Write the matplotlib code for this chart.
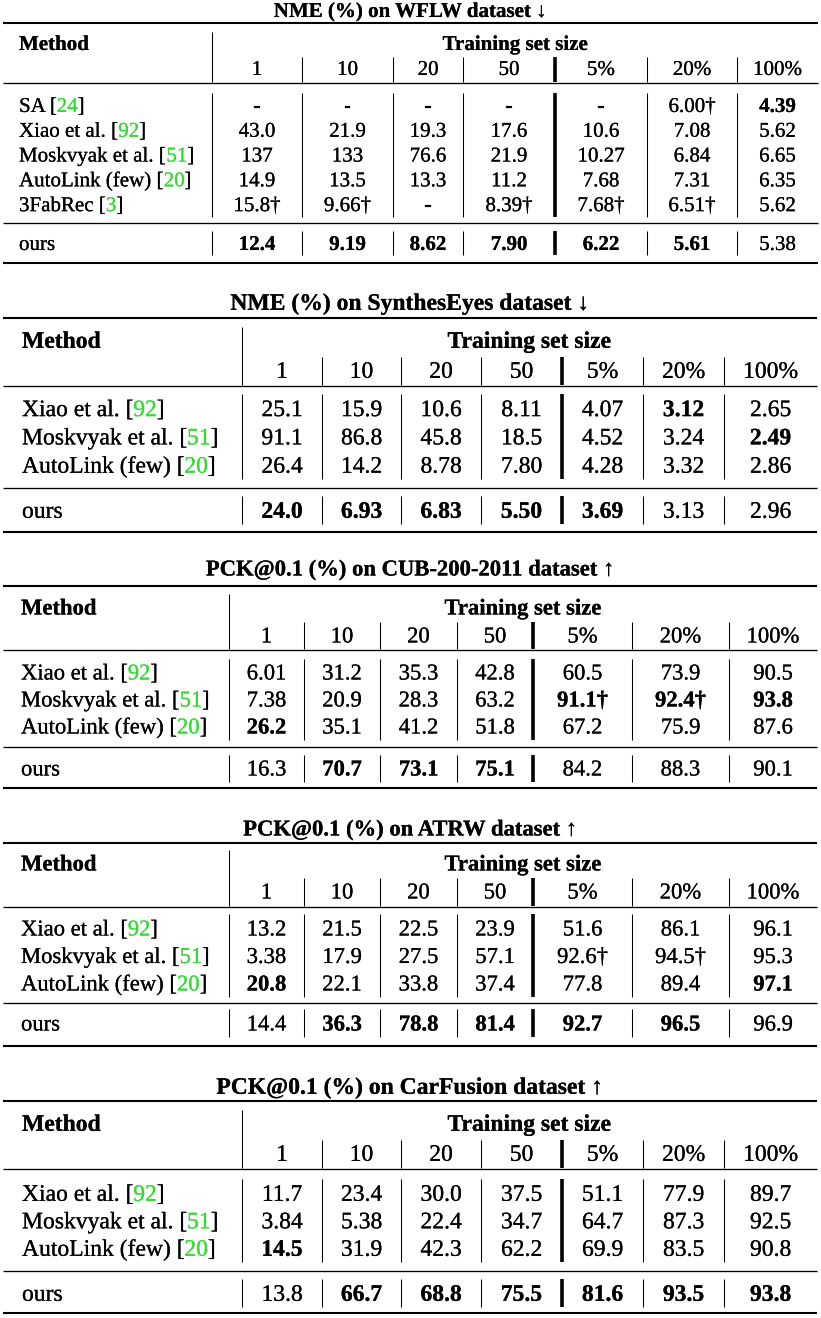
import matplotlib
matplotlib.use("Agg")
import matplotlib.pyplot as plt
import matplotlib.patheffects as pe

# Times-like font, DejaVu for any missing glyph (arrows)
plt.rcParams['font.family'] = ['Liberation Serif', 'DejaVu Serif']

GREEN = '#33dc33'

sizes = ["1", "10", "20", "50", "5%", "20%", "100%"]

titles = [
    "NME (%) on WFLW dataset \u2193",
    "NME (%) on SynthesEyes dataset \u2193",
    "PCK@0.1 (%) on CUB-200-2011 dataset \u2191",
    "PCK@0.1 (%) on ATRW dataset \u2191",
    "PCK@0.1 (%) on CarFusion dataset \u2191",
]

wflw_methods = ["SA", "Xiao et al.", "Moskvyak et al.", "AutoLink (few)", "3FabRec", "ours"]
wflw_cites = ["24", "92", "51", "20", "3", None]
wflw_values = [
    ["-", "-", "-", "-", "-", "6.00\u2020", "4.39"],
    ["43.0", "21.9", "19.3", "17.6", "10.6", "7.08", "5.62"],
    ["137", "133", "76.6", "21.9", "10.27", "6.84", "6.65"],
    ["14.9", "13.5", "13.3", "11.2", "7.68", "7.31", "6.35"],
    ["15.8\u2020", "9.66\u2020", "-", "8.39\u2020", "7.68\u2020", "6.51\u2020", "5.62"],
    ["12.4", "9.19", "8.62", "7.90", "6.22", "5.61", "5.38"],
]
wflw_bold = [[6], [], [], [], [], [0, 1, 2, 3, 4, 5]]

# the other four tables share the same methods
methods = ["Xiao et al.", "Moskvyak et al.", "AutoLink (few)", "ours"]
cites = ["92", "51", "20", None]

synth_values = [
    ["25.1", "15.9", "10.6", "8.11", "4.07", "3.12", "2.65"],
    ["91.1", "86.8", "45.8", "18.5", "4.52", "3.24", "2.49"],
    ["26.4", "14.2", "8.78", "7.80", "4.28", "3.32", "2.86"],
    ["24.0", "6.93", "6.83", "5.50", "3.69", "3.13", "2.96"],
]
synth_bold = [[5], [6], [], [0, 1, 2, 3, 4]]

cub_values = [
    ["6.01", "31.2", "35.3", "42.8", "60.5", "73.9", "90.5"],
    ["7.38", "20.9", "28.3", "63.2", "91.1\u2020", "92.4\u2020", "93.8"],
    ["26.2", "35.1", "41.2", "51.8", "67.2", "75.9", "87.6"],
    ["16.3", "70.7", "73.1", "75.1", "84.2", "88.3", "90.1"],
]
cub_bold = [[], [4, 5, 6], [0], [1, 2, 3]]

atrw_values = [
    ["13.2", "21.5", "22.5", "23.9", "51.6", "86.1", "96.1"],
    ["3.38", "17.9", "27.5", "57.1", "92.6\u2020", "94.5\u2020", "95.3"],
    ["20.8", "22.1", "33.8", "37.4", "77.8", "89.4", "97.1"],
    ["14.4", "36.3", "78.8", "81.4", "92.7", "96.5", "96.9"],
]
atrw_bold = [[], [], [0, 6], [1, 2, 3, 4, 5]]

car_values = [
    ["11.7", "23.4", "30.0", "37.5", "51.1", "77.9", "89.7"],
    ["3.84", "5.38", "22.4", "34.7", "64.7", "87.3", "92.5"],
    ["14.5", "31.9", "42.3", "62.2", "69.9", "83.5", "90.8"],
    ["13.8", "66.7", "68.8", "75.5", "81.6", "93.5", "93.8"],
]
car_bold = [[], [], [0], [1, 2, 3, 4, 5, 6]]

# layout of each table (pixels, y grows downwards)
vx_wide = [242, 322, 401, 481, 562, 643, 724]
vx_mid = [229, 304, 380, 457, 533, 632, 729]
layouts = [
    dict(fs=15.1, title=10, top=23, hdr1=43, hdr2=68, mid1=83, row0=105, pitch=24.8,
         mid2=223, ours=243, bottom=263, vx=[212, 302, 393, 463, 555, 647, 737], right=818, left=19),
    dict(fs=17.0, title=302, top=318, hdr1=340, hdr2=370, mid1=386, row0=408.3, pitch=28.3,
         mid2=488, ours=510, bottom=532, vx=vx_wide, right=817, left=22),
    dict(fs=16.3, title=568, top=586, hdr1=607, hdr2=635, mid1=650, row0=672, pitch=27.0,
         mid2=747, ours=768, bottom=788, vx=vx_mid, right=817, left=21),
    dict(fs=16.3, title=828, top=843, hdr1=863, hdr2=891, mid1=907, row0=928, pitch=27.5,
         mid2=1003, ours=1023, bottom=1046, vx=vx_mid, right=817, left=21),
    dict(fs=17.0, title=1086, top=1101, hdr1=1123, hdr2=1153, mid1=1169, row0=1193, pitch=27.5,
         mid2=1271, ours=1293, bottom=1313, vx=vx_wide, right=817, left=22),
]

W, H = 821, 1318
fig = plt.figure(figsize=(W / 100, H / 100), dpi=100)
ax = fig.add_axes([0, 0, 1, 1])
ax.set_xlim(0, W)
ax.set_ylim(H, 0)
ax.axis('off')
renderer = fig.canvas.get_renderer()


def base(y, fs):
    # convert a visual cap-centre to a baseline position
    return y + 0.33 * fs * 100 / 72


def put(x, y, s, fs, color='black', **kw):
    t = ax.text(x, y, s, fontsize=fs, color=color, va='baseline', **kw)
    t.set_path_effects([pe.withStroke(linewidth=0.15, foreground=color)])
    return t


def right_edge(x, y, s, fs):
    # ink right edge of s when drawn left-aligned at x
    t = ax.text(x, y, s, fontsize=fs, ha='left', va='baseline')
    r = t.get_window_extent(renderer).x1
    t.remove()
    return r


def method_cell(x, y, name, cite, fs):
    yb = base(y, fs)
    if cite is None:
        put(x, yb, name, fs, ha='left')
        return
    put(x, yb, name + " [", fs, ha='left')
    put(right_edge(x, yb, name + " [" + cite, fs), yb, cite, fs, color=GREEN, ha='right')
    put(right_edge(x, yb, name + " [" + cite + "]", fs), yb, "]", fs, ha='right')


def draw_table(title, names, refs, values, bold, lay):
    fs = lay['fs']
    vx = lay['vx']
    x0, x1 = 3, lay['right']
    edges = vx + [x1]
    centers = [(edges[i] + edges[i + 1]) / 2 for i in range(len(vx))]

    put(410, base(lay['title'], fs), title, fs, fontweight='bold', ha='center')

    # rules
    ax.hlines([lay['top'], lay['bottom']], x0, x1, color='black', lw=1.5)
    ax.hlines([lay['mid1'], lay['mid2']], x0, x1, color='black', lw=0.95)

    # header
    put(lay['left'], base(lay['hdr1'], fs), "Method", fs, fontweight='bold', ha='left')
    put((vx[0] + x1) / 2, base(lay['hdr1'], fs), "Training set size", fs,
        fontweight='bold', ha='center')
    for c, s in zip(centers, sizes):
        put(c, base(lay['hdr2'], fs), s, fs, ha='center')

    hp = lay['hdr2'] - lay['hdr1']
    p = lay['pitch']
    body_rows = [lay['row0'] + i * p for i in range(len(names) - 1)]
    row_y = body_rows + [lay['ours']]

    segs = []
    for i, x in enumerate(vx):
        h0 = lay['hdr1'] - 0.45 * hp if i == 0 else lay['hdr2'] - 0.45 * hp
        segs.append((x, h0, lay['mid1'] - 1, i))
        segs.append((x, body_rows[0] - 0.5 * p, body_rows[-1] + 0.5 * p, i))
        segs.append((x, lay['ours'] - 0.5 * p, lay['ours'] + 0.5 * p, i))
    for x, ya, yb, i in segs:
        ax.vlines(x, ya, yb, color='black', lw=2.6 if i == 4 else 0.75)

    # body
    for r, (y, name, ref) in enumerate(zip(row_y, names, refs)):
        method_cell(lay['left'], y, name, ref, fs)
        for c, (cx, v) in enumerate(zip(centers, values[r])):
            put(cx, base(y, fs), v, fs, ha='center',
                fontweight='bold' if c in bold[r] else 'normal')


draw_table(titles[0], wflw_methods, wflw_cites, wflw_values, wflw_bold, layouts[0])
draw_table(titles[1], methods, cites, synth_values, synth_bold, layouts[1])
draw_table(titles[2], methods, cites, cub_values, cub_bold, layouts[2])
draw_table(titles[3], methods, cites, atrw_values, atrw_bold, layouts[3])
draw_table(titles[4], methods, cites, car_values, car_bold, layouts[4])

fig.savefig("out.png", dpi=100, facecolor='white')
